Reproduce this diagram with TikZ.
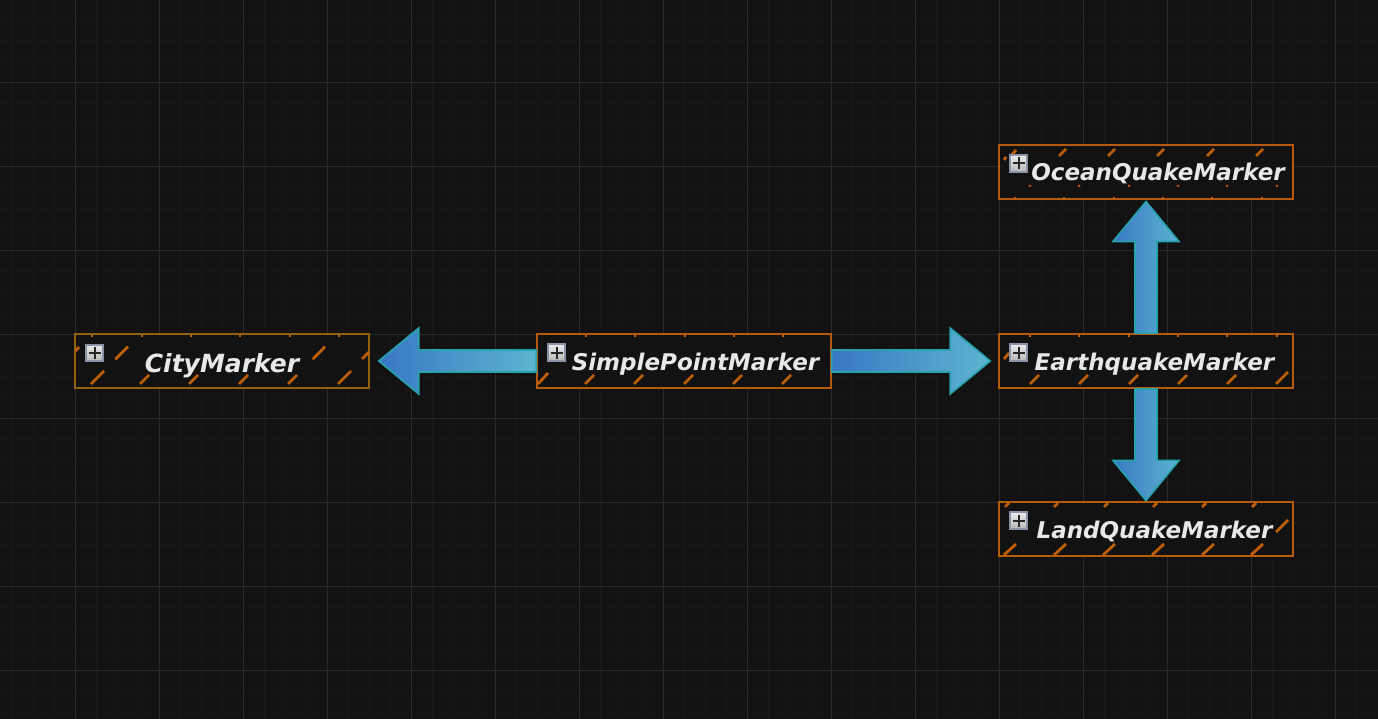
\documentclass[tikz,border=0pt]{standalone}
\usepackage{fontspec}
\setmainfont{DejaVu Sans}
\newfontfamily\markerfont{DejaVu Sans Bold Oblique}
\usetikzlibrary{calc}
\definecolor{bgc}{HTML}{121212}
\definecolor{gridmajor}{HTML}{2A2A2A}
\definecolor{gridminor}{HTML}{171717}
\definecolor{borderc}{HTML}{B85A0C}
\definecolor{cityborder}{HTML}{95600E}
\definecolor{hatchc}{HTML}{C05E08}
\definecolor{labelc}{HTML}{E8E8E8}
\definecolor{arrowline}{HTML}{26A3AC}
\definecolor{arrowa}{HTML}{3878C4}
\definecolor{arrowb}{HTML}{5DB4D0}
\definecolor{iconedge}{HTML}{8C92A8}
\tikzset{
  markerbox/.style={draw=borderc,fill=bgc,line width=2pt,minimum height=54pt,text width=293.5pt,
    align=center,inner sep=0pt,text=labelc,font=\markerfont\fontsize{23}{26}\selectfont},
  plusicon/.style={draw=iconedge,line width=2pt,top color=white!92!black,bottom color=white!72!black,minimum size=16.5pt,inner sep=0pt,
    path picture={\draw[black!85,line width=2pt]
      ($(path picture bounding box.center)+(-6pt,0)$) -- ($(path picture bounding box.center)+(6pt,0)$)
      ($(path picture bounding box.center)+(0,-6pt)$) -- ($(path picture bounding box.center)+(0,6pt)$);}},
  hatchline/.style={draw=hatchc,line width=2.8pt},
  fatarrow/.style={draw=arrowline,line width=1.6pt,line join=miter,left color=arrowa,right color=arrowb,middle color=arrowa!50!arrowb},
}
\newcommand{\hatchset}[1]{\foreach \xa/\ya/\xb/\yb in {#1} {\draw[hatchline] (\xa,\ya) -- (\xb,\yb);}}
\newcommand{\lowered}[2][9pt]{\raisebox{-#1}[0pt][0pt]{#2}}
% start coordinate, tip coordinate, both named
\newcommand{\blockarrow}[2]{%
  \coordinate (hb) at ($(#2)!40pt!(#1)$);
  \path[fatarrow]
    ($(#1)!11pt!-90:(#2)$) -- ($(hb)!11pt!-90:(#2)$) -- ($(hb)!33pt!-90:(#2)$) -- (#2)
    -- ($(hb)!33pt!90:(#2)$) -- ($(hb)!11pt!90:(#2)$) -- ($(#1)!11pt!90:(#2)$) -- cycle;}
\begin{document}
\begin{tikzpicture}[x=1pt,y=-1pt]
\useasboundingbox (0,0) rectangle (1378,719);
\fill[bgc] (0,0) rectangle (1378,719);
% grid
\foreach \k in {0,...,65} {\draw[gridminor,line width=.8pt] ({12+21*\k},0) -- ({12+21*\k},719);}
\foreach \k in {0,...,34} {\draw[gridminor,line width=.8pt] (0,{19+21*\k}) -- (1378,{19+21*\k});}
\foreach \k in {0,...,15} {\draw[gridmajor,line width=.9pt] ({75+84*\k},0) -- ({75+84*\k},719);}
\foreach \k in {0,...,7} {\draw[gridmajor,line width=.9pt] (0,{82+84*\k}) -- (1378,{82+84*\k});}
% boxes
\node[markerbox,draw=cityborder,font=\markerfont\fontsize{25}{28}\selectfont] (city) at (222,361) {\lowered[11pt]{CityMarker}};
\node[markerbox] (simple) at (684,361) {\hspace*{23pt}\lowered{SimplePointMarker}};
\node[markerbox] (earth) at (1146,361) {\hspace*{17pt}\lowered{EarthquakeMarker}};
\node[markerbox] (ocean) at (1146,172) {\hspace*{24pt}\lowered{OceanQuakeMarker}};
\node[markerbox] (land) at (1146,529) {\hspace*{17pt}\lowered{LandQuakeMarker}};
% hatching
\hatchset{75.5/351/79/347,115.3/359.3/128/346.7,312.7/359.3/325/346.7,362/359/369/352,91/384/104/371,140/384/149/375,189/384/198/375,239/384/248/375,288/384/297/375,338/384/351/371}
\hatchset{538/384/548/373,585/384/594/375,634/384/643/375,684/384/693/375,733/384/742/375,782/384/791/375}
\hatchset{1011/156/1016/150,1059/156/1066/149,1108/156/1115/149,1157/156/1164/149,1207/156/1214/149,1256/156/1263/149,1004/160/1006/157}
\hatchset{1004/359/1009/353,1030/384/1039/375,1079/384/1088/375,1129/384/1138/375,1178/384/1187/375,1227/384/1236/375,1276/384/1288/372}
\hatchset{1005/507/1009/503,1054/507/1058/503,1104/507/1108/503,1153/507/1157/503,1202/507/1206/503,1252/507/1256/503,1276/532/1288/520,1004/555/1016/544,1054/555/1066/544,1103/555/1115/544,1152/555/1164/544,1202/555/1214/544,1251/555/1263/544}
% small ticks
\foreach \x in {92,142,191,240,290,339,586,635,685,734,783,1030,1079,1129,1178,1227,1277} {\fill[hatchc] (\x-1,335) rectangle (\x+1,336.5);}
\foreach \x in {1030,1079,1129,1178,1227,1277} {\fill[hatchc] (\x-1.5,185) -- (\x+1.5,185) -- (\x,187.5) -- cycle;}
\foreach \x in {1015,1064,1114,1163,1212,1262} {\fill[hatchc] (\x-1,197) rectangle (\x+1,198.5);}
% icons
\node[plusicon] (icity) at (94.5,353) {};
\node[plusicon] (isimple) at (556.5,352.5) {};
\node[plusicon] (iearth) at (1018.5,352.5) {};
\node[plusicon] (iocean) at (1018.5,163.5) {};
\node[plusicon] (iland) at (1018.5,520.5) {};
% connectors
\coordinate (tcity) at ($(city.east)+(9,0)$);
\coordinate (tearth) at ($(earth.west)+(-8,0)$);
\coordinate (tocean) at ($(ocean.south)+(0,1.5)$);
\coordinate (tland) at ($(land.north)+(0,-0.5)$);
\blockarrow{simple.west}{tcity}
\blockarrow{simple.east}{tearth}
\blockarrow{earth.north}{tocean}
\blockarrow{earth.south}{tland}
\end{tikzpicture}
\end{document}
